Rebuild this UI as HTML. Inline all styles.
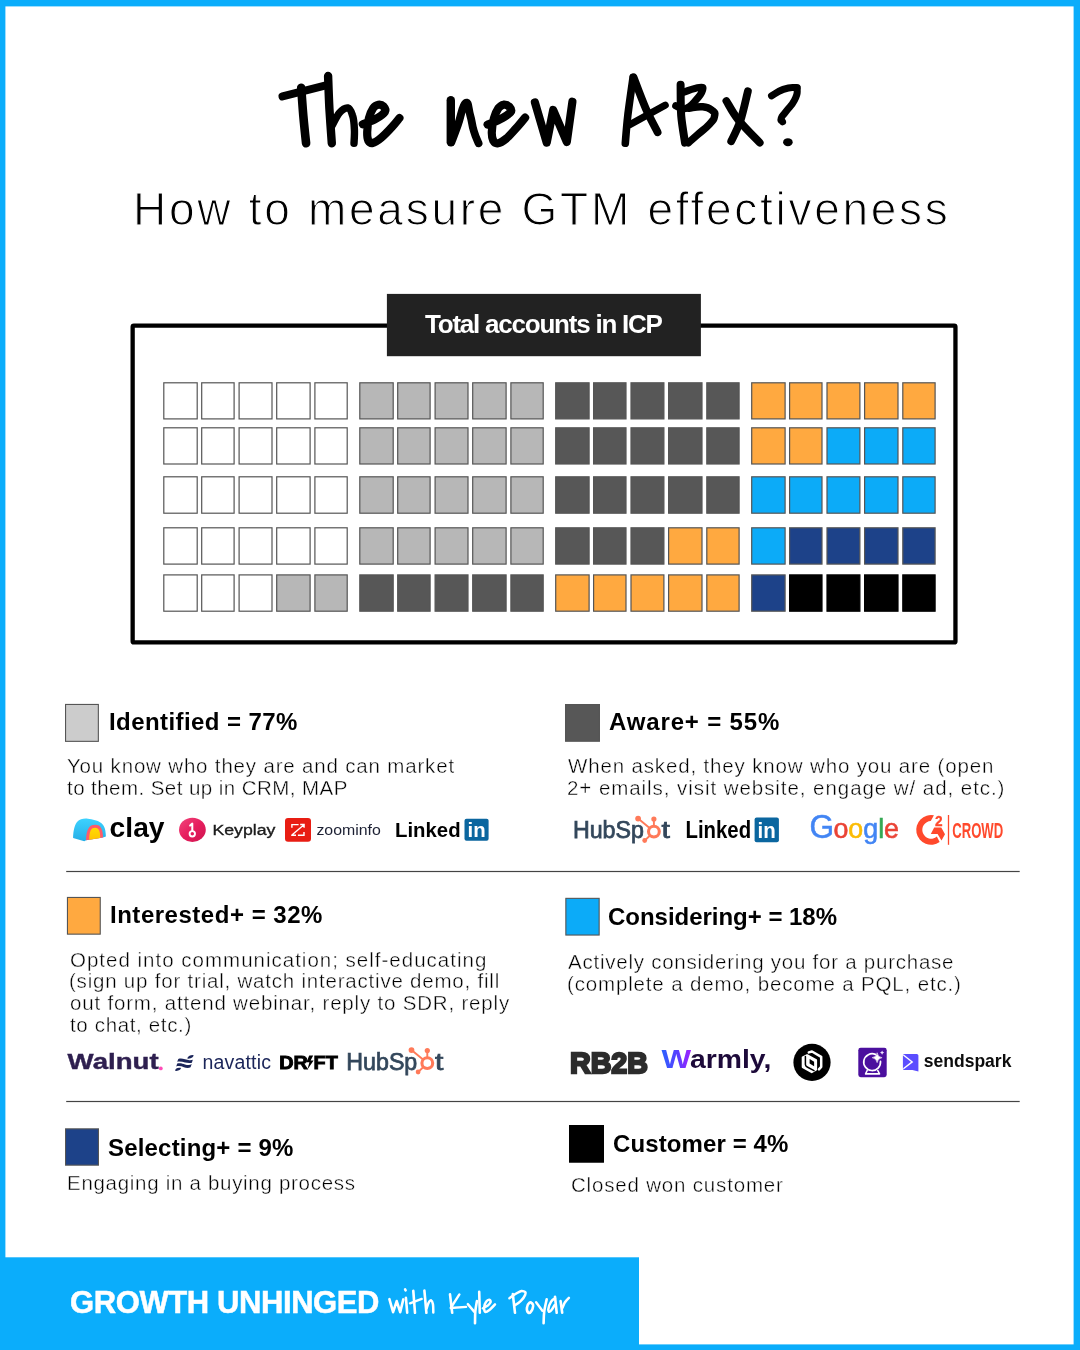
<!DOCTYPE html>
<html><head><meta charset="utf-8"><title>The new ABX?</title>
<style>
html,body{margin:0;padding:0}
body{width:1080px;height:1350px;position:relative;overflow:hidden;background:#0badfb;font-family:"Liberation Sans",sans-serif}
.t{position:absolute;white-space:nowrap;line-height:1;will-change:transform}
svg{position:absolute;overflow:visible;will-change:transform}
</style></head><body>
<svg width="1080" height="1350" style="left:0;top:0" viewBox="0 0 1080 1350">
<rect x="5.4" y="6.4" width="1068.2" height="1338" fill="#fff"/>
<rect x="0" y="1257.3" width="639" height="93" fill="#0badfb"/>
<rect x="132.65" y="325.55" width="822.8" height="316.9" rx="1.2" fill="none" stroke="#000" stroke-width="4.3"/>
<rect x="386.9" y="293.9" width="314" height="62.3" fill="#222"/>
<rect x="163.80" y="382.80" width="33.40" height="36.10" fill="#ffffff" stroke="#555" stroke-width="1.2"/>
<rect x="201.70" y="382.80" width="32.40" height="36.10" fill="#ffffff" stroke="#555" stroke-width="1.2"/>
<rect x="239.10" y="382.80" width="32.90" height="36.10" fill="#ffffff" stroke="#555" stroke-width="1.2"/>
<rect x="276.70" y="382.80" width="33.40" height="36.10" fill="#ffffff" stroke="#555" stroke-width="1.2"/>
<rect x="314.90" y="382.80" width="32.30" height="36.10" fill="#ffffff" stroke="#555" stroke-width="1.2"/>
<rect x="359.80" y="382.80" width="33.40" height="36.10" fill="#b7b7b7" stroke="#555" stroke-width="1.2"/>
<rect x="397.70" y="382.80" width="32.40" height="36.10" fill="#b7b7b7" stroke="#555" stroke-width="1.2"/>
<rect x="435.10" y="382.80" width="32.90" height="36.10" fill="#b7b7b7" stroke="#555" stroke-width="1.2"/>
<rect x="472.70" y="382.80" width="33.40" height="36.10" fill="#b7b7b7" stroke="#555" stroke-width="1.2"/>
<rect x="510.90" y="382.80" width="32.30" height="36.10" fill="#b7b7b7" stroke="#555" stroke-width="1.2"/>
<rect x="555.70" y="382.80" width="33.40" height="36.10" fill="#575757" stroke="#555" stroke-width="1.2"/>
<rect x="593.60" y="382.80" width="32.40" height="36.10" fill="#575757" stroke="#555" stroke-width="1.2"/>
<rect x="631.00" y="382.80" width="32.90" height="36.10" fill="#575757" stroke="#555" stroke-width="1.2"/>
<rect x="668.60" y="382.80" width="33.40" height="36.10" fill="#575757" stroke="#555" stroke-width="1.2"/>
<rect x="706.80" y="382.80" width="32.30" height="36.10" fill="#575757" stroke="#555" stroke-width="1.2"/>
<rect x="751.70" y="382.80" width="33.40" height="36.10" fill="#ffa940" stroke="#555" stroke-width="1.2"/>
<rect x="789.60" y="382.80" width="32.40" height="36.10" fill="#ffa940" stroke="#555" stroke-width="1.2"/>
<rect x="827.00" y="382.80" width="32.90" height="36.10" fill="#ffa940" stroke="#555" stroke-width="1.2"/>
<rect x="864.60" y="382.80" width="33.40" height="36.10" fill="#ffa940" stroke="#555" stroke-width="1.2"/>
<rect x="902.80" y="382.80" width="32.30" height="36.10" fill="#ffa940" stroke="#555" stroke-width="1.2"/>
<rect x="163.80" y="427.80" width="33.40" height="36.20" fill="#ffffff" stroke="#555" stroke-width="1.2"/>
<rect x="201.70" y="427.80" width="32.40" height="36.20" fill="#ffffff" stroke="#555" stroke-width="1.2"/>
<rect x="239.10" y="427.80" width="32.90" height="36.20" fill="#ffffff" stroke="#555" stroke-width="1.2"/>
<rect x="276.70" y="427.80" width="33.40" height="36.20" fill="#ffffff" stroke="#555" stroke-width="1.2"/>
<rect x="314.90" y="427.80" width="32.30" height="36.20" fill="#ffffff" stroke="#555" stroke-width="1.2"/>
<rect x="359.80" y="427.80" width="33.40" height="36.20" fill="#b7b7b7" stroke="#555" stroke-width="1.2"/>
<rect x="397.70" y="427.80" width="32.40" height="36.20" fill="#b7b7b7" stroke="#555" stroke-width="1.2"/>
<rect x="435.10" y="427.80" width="32.90" height="36.20" fill="#b7b7b7" stroke="#555" stroke-width="1.2"/>
<rect x="472.70" y="427.80" width="33.40" height="36.20" fill="#b7b7b7" stroke="#555" stroke-width="1.2"/>
<rect x="510.90" y="427.80" width="32.30" height="36.20" fill="#b7b7b7" stroke="#555" stroke-width="1.2"/>
<rect x="555.70" y="427.80" width="33.40" height="36.20" fill="#575757" stroke="#555" stroke-width="1.2"/>
<rect x="593.60" y="427.80" width="32.40" height="36.20" fill="#575757" stroke="#555" stroke-width="1.2"/>
<rect x="631.00" y="427.80" width="32.90" height="36.20" fill="#575757" stroke="#555" stroke-width="1.2"/>
<rect x="668.60" y="427.80" width="33.40" height="36.20" fill="#575757" stroke="#555" stroke-width="1.2"/>
<rect x="706.80" y="427.80" width="32.30" height="36.20" fill="#575757" stroke="#555" stroke-width="1.2"/>
<rect x="751.70" y="427.80" width="33.40" height="36.20" fill="#ffa940" stroke="#555" stroke-width="1.2"/>
<rect x="789.60" y="427.80" width="32.40" height="36.20" fill="#ffa940" stroke="#555" stroke-width="1.2"/>
<rect x="827.00" y="427.80" width="32.90" height="36.20" fill="#0cabf8" stroke="#555" stroke-width="1.2"/>
<rect x="864.60" y="427.80" width="33.40" height="36.20" fill="#0cabf8" stroke="#555" stroke-width="1.2"/>
<rect x="902.80" y="427.80" width="32.30" height="36.20" fill="#0cabf8" stroke="#555" stroke-width="1.2"/>
<rect x="163.80" y="476.80" width="33.40" height="36.40" fill="#ffffff" stroke="#555" stroke-width="1.2"/>
<rect x="201.70" y="476.80" width="32.40" height="36.40" fill="#ffffff" stroke="#555" stroke-width="1.2"/>
<rect x="239.10" y="476.80" width="32.90" height="36.40" fill="#ffffff" stroke="#555" stroke-width="1.2"/>
<rect x="276.70" y="476.80" width="33.40" height="36.40" fill="#ffffff" stroke="#555" stroke-width="1.2"/>
<rect x="314.90" y="476.80" width="32.30" height="36.40" fill="#ffffff" stroke="#555" stroke-width="1.2"/>
<rect x="359.80" y="476.80" width="33.40" height="36.40" fill="#b7b7b7" stroke="#555" stroke-width="1.2"/>
<rect x="397.70" y="476.80" width="32.40" height="36.40" fill="#b7b7b7" stroke="#555" stroke-width="1.2"/>
<rect x="435.10" y="476.80" width="32.90" height="36.40" fill="#b7b7b7" stroke="#555" stroke-width="1.2"/>
<rect x="472.70" y="476.80" width="33.40" height="36.40" fill="#b7b7b7" stroke="#555" stroke-width="1.2"/>
<rect x="510.90" y="476.80" width="32.30" height="36.40" fill="#b7b7b7" stroke="#555" stroke-width="1.2"/>
<rect x="555.70" y="476.80" width="33.40" height="36.40" fill="#575757" stroke="#555" stroke-width="1.2"/>
<rect x="593.60" y="476.80" width="32.40" height="36.40" fill="#575757" stroke="#555" stroke-width="1.2"/>
<rect x="631.00" y="476.80" width="32.90" height="36.40" fill="#575757" stroke="#555" stroke-width="1.2"/>
<rect x="668.60" y="476.80" width="33.40" height="36.40" fill="#575757" stroke="#555" stroke-width="1.2"/>
<rect x="706.80" y="476.80" width="32.30" height="36.40" fill="#575757" stroke="#555" stroke-width="1.2"/>
<rect x="751.70" y="476.80" width="33.40" height="36.40" fill="#0cabf8" stroke="#555" stroke-width="1.2"/>
<rect x="789.60" y="476.80" width="32.40" height="36.40" fill="#0cabf8" stroke="#555" stroke-width="1.2"/>
<rect x="827.00" y="476.80" width="32.90" height="36.40" fill="#0cabf8" stroke="#555" stroke-width="1.2"/>
<rect x="864.60" y="476.80" width="33.40" height="36.40" fill="#0cabf8" stroke="#555" stroke-width="1.2"/>
<rect x="902.80" y="476.80" width="32.30" height="36.40" fill="#0cabf8" stroke="#555" stroke-width="1.2"/>
<rect x="163.80" y="527.80" width="33.40" height="36.30" fill="#ffffff" stroke="#555" stroke-width="1.2"/>
<rect x="201.70" y="527.80" width="32.40" height="36.30" fill="#ffffff" stroke="#555" stroke-width="1.2"/>
<rect x="239.10" y="527.80" width="32.90" height="36.30" fill="#ffffff" stroke="#555" stroke-width="1.2"/>
<rect x="276.70" y="527.80" width="33.40" height="36.30" fill="#ffffff" stroke="#555" stroke-width="1.2"/>
<rect x="314.90" y="527.80" width="32.30" height="36.30" fill="#ffffff" stroke="#555" stroke-width="1.2"/>
<rect x="359.80" y="527.80" width="33.40" height="36.30" fill="#b7b7b7" stroke="#555" stroke-width="1.2"/>
<rect x="397.70" y="527.80" width="32.40" height="36.30" fill="#b7b7b7" stroke="#555" stroke-width="1.2"/>
<rect x="435.10" y="527.80" width="32.90" height="36.30" fill="#b7b7b7" stroke="#555" stroke-width="1.2"/>
<rect x="472.70" y="527.80" width="33.40" height="36.30" fill="#b7b7b7" stroke="#555" stroke-width="1.2"/>
<rect x="510.90" y="527.80" width="32.30" height="36.30" fill="#b7b7b7" stroke="#555" stroke-width="1.2"/>
<rect x="555.70" y="527.80" width="33.40" height="36.30" fill="#575757" stroke="#555" stroke-width="1.2"/>
<rect x="593.60" y="527.80" width="32.40" height="36.30" fill="#575757" stroke="#555" stroke-width="1.2"/>
<rect x="631.00" y="527.80" width="32.90" height="36.30" fill="#575757" stroke="#555" stroke-width="1.2"/>
<rect x="668.60" y="527.80" width="33.40" height="36.30" fill="#ffa940" stroke="#555" stroke-width="1.2"/>
<rect x="706.80" y="527.80" width="32.30" height="36.30" fill="#ffa940" stroke="#555" stroke-width="1.2"/>
<rect x="751.70" y="527.80" width="33.40" height="36.30" fill="#0cabf8" stroke="#555" stroke-width="1.2"/>
<rect x="789.60" y="527.80" width="32.40" height="36.30" fill="#1d4289" stroke="#555" stroke-width="1.2"/>
<rect x="827.00" y="527.80" width="32.90" height="36.30" fill="#1d4289" stroke="#555" stroke-width="1.2"/>
<rect x="864.60" y="527.80" width="33.40" height="36.30" fill="#1d4289" stroke="#555" stroke-width="1.2"/>
<rect x="902.80" y="527.80" width="32.30" height="36.30" fill="#1d4289" stroke="#555" stroke-width="1.2"/>
<rect x="163.80" y="574.90" width="33.40" height="36.30" fill="#ffffff" stroke="#555" stroke-width="1.2"/>
<rect x="201.70" y="574.90" width="32.40" height="36.30" fill="#ffffff" stroke="#555" stroke-width="1.2"/>
<rect x="239.10" y="574.90" width="32.90" height="36.30" fill="#ffffff" stroke="#555" stroke-width="1.2"/>
<rect x="276.70" y="574.90" width="33.40" height="36.30" fill="#b7b7b7" stroke="#555" stroke-width="1.2"/>
<rect x="314.90" y="574.90" width="32.30" height="36.30" fill="#b7b7b7" stroke="#555" stroke-width="1.2"/>
<rect x="359.80" y="574.90" width="33.40" height="36.30" fill="#575757" stroke="#555" stroke-width="1.2"/>
<rect x="397.70" y="574.90" width="32.40" height="36.30" fill="#575757" stroke="#555" stroke-width="1.2"/>
<rect x="435.10" y="574.90" width="32.90" height="36.30" fill="#575757" stroke="#555" stroke-width="1.2"/>
<rect x="472.70" y="574.90" width="33.40" height="36.30" fill="#575757" stroke="#555" stroke-width="1.2"/>
<rect x="510.90" y="574.90" width="32.30" height="36.30" fill="#575757" stroke="#555" stroke-width="1.2"/>
<rect x="555.70" y="574.90" width="33.40" height="36.30" fill="#ffa940" stroke="#555" stroke-width="1.2"/>
<rect x="593.60" y="574.90" width="32.40" height="36.30" fill="#ffa940" stroke="#555" stroke-width="1.2"/>
<rect x="631.00" y="574.90" width="32.90" height="36.30" fill="#ffa940" stroke="#555" stroke-width="1.2"/>
<rect x="668.60" y="574.90" width="33.40" height="36.30" fill="#ffa940" stroke="#555" stroke-width="1.2"/>
<rect x="706.80" y="574.90" width="32.30" height="36.30" fill="#ffa940" stroke="#555" stroke-width="1.2"/>
<rect x="751.70" y="574.90" width="33.40" height="36.30" fill="#1d4289" stroke="#555" stroke-width="1.2"/>
<rect x="789.60" y="574.90" width="32.40" height="36.30" fill="#000000" stroke="#000" stroke-width="1.2"/>
<rect x="827.00" y="574.90" width="32.90" height="36.30" fill="#000000" stroke="#000" stroke-width="1.2"/>
<rect x="864.60" y="574.90" width="33.40" height="36.30" fill="#000000" stroke="#000" stroke-width="1.2"/>
<rect x="902.80" y="574.90" width="32.30" height="36.30" fill="#000000" stroke="#000" stroke-width="1.2"/>
<rect x="65.55" y="704.45" width="32.80" height="36.90" fill="#cccccc" stroke="#555" stroke-width="1.1"/>
<rect x="565.55" y="704.55" width="33.90" height="36.70" fill="#575757" stroke="#555" stroke-width="1.1"/>
<rect x="67.45" y="897.45" width="32.80" height="36.70" fill="#ffa940" stroke="#555" stroke-width="1.1"/>
<rect x="565.85" y="898.35" width="33.30" height="36.70" fill="#0cabf8" stroke="#555" stroke-width="1.1"/>
<rect x="65.55" y="1128.85" width="32.90" height="36.30" fill="#1d4289" stroke="#555" stroke-width="1.1"/>
<rect x="569.55" y="1125.55" width="33.90" height="36.60" fill="#000000" stroke="#000" stroke-width="1.1"/>
<rect x="66.2" y="870.9" width="953.5" height="1.2" fill="#444"/>
<rect x="66.2" y="1100.9" width="953.5" height="1.2" fill="#444"/>
</svg>

<div class="t" style="left:132.75px;top:185.5px;font-size:46px;font-weight:400;color:#000;letter-spacing:2.725px;-webkit-text-stroke:1.1px #fff;">How to measure GTM effectiveness</div>
<div class="t" style="left:425.00px;top:310.8px;font-size:26px;font-weight:700;color:#fff;letter-spacing:-1.225px;">Total accounts in ICP</div>
<div class="t" style="left:109.00px;top:709.5px;font-size:24.0px;font-weight:700;color:#000;letter-spacing:0.419px;">Identified = 77%</div>
<div class="t" style="left:67.20px;top:756.3px;font-size:20.5px;font-weight:400;color:#000;letter-spacing:0.825px;-webkit-text-stroke:0.4px #fff;">You know who they are and can market</div>
<div class="t" style="left:67.20px;top:778.1px;font-size:20.5px;font-weight:400;color:#000;letter-spacing:0.442px;-webkit-text-stroke:0.4px #fff;">to them. Set up in CRM, MAP</div>
<div class="t" style="left:608.75px;top:709.5px;font-size:24.0px;font-weight:700;color:#000;letter-spacing:0.849px;">Aware+ = 55%</div>
<div class="t" style="left:567.60px;top:755.6px;font-size:20.5px;font-weight:400;color:#000;letter-spacing:0.849px;-webkit-text-stroke:0.4px #fff;">When asked, they know who you are (open</div>
<div class="t" style="left:566.60px;top:777.7px;font-size:20.5px;font-weight:400;color:#000;letter-spacing:0.943px;-webkit-text-stroke:0.4px #fff;">2+ emails, visit website, engage w/ ad, etc.)</div>
<div class="t" style="left:110.40px;top:902.8px;font-size:24.0px;font-weight:700;color:#000;letter-spacing:0.521px;">Interested+ = 32%</div>
<div class="t" style="left:69.50px;top:949.7px;font-size:20.5px;font-weight:400;color:#000;letter-spacing:1.003px;-webkit-text-stroke:0.4px #fff;">Opted into communication; self-educating</div>
<div class="t" style="left:68.50px;top:971.0px;font-size:20.5px;font-weight:400;color:#000;letter-spacing:0.791px;-webkit-text-stroke:0.4px #fff;">(sign up for trial, watch interactive demo, fill</div>
<div class="t" style="left:69.50px;top:993.2px;font-size:20.5px;font-weight:400;color:#000;letter-spacing:0.814px;-webkit-text-stroke:0.4px #fff;">out form, attend webinar, reply to SDR, reply</div>
<div class="t" style="left:69.50px;top:1015.0px;font-size:20.5px;font-weight:400;color:#000;letter-spacing:0.648px;-webkit-text-stroke:0.4px #fff;">to chat, etc.)</div>
<div class="t" style="left:608.30px;top:904.7px;font-size:24.0px;font-weight:700;color:#000;letter-spacing:-0.022px;">Considering+ = 18%</div>
<div class="t" style="left:567.60px;top:952.2px;font-size:20.5px;font-weight:400;color:#000;letter-spacing:0.759px;-webkit-text-stroke:0.4px #fff;">Actively considering you for a purchase</div>
<div class="t" style="left:566.60px;top:974.3px;font-size:20.5px;font-weight:400;color:#000;letter-spacing:0.846px;-webkit-text-stroke:0.4px #fff;">(complete a demo, become a PQL, etc.)</div>
<div class="t" style="left:108.30px;top:1135.7px;font-size:24.0px;font-weight:700;color:#000;letter-spacing:0.185px;">Selecting+ = 9%</div>
<div class="t" style="left:66.50px;top:1173.3px;font-size:20.5px;font-weight:400;color:#000;letter-spacing:0.703px;-webkit-text-stroke:0.4px #fff;">Engaging in a buying process</div>
<div class="t" style="left:613.30px;top:1132.3px;font-size:24.0px;font-weight:700;color:#000;letter-spacing:0.107px;">Customer = 4%</div>
<div class="t" style="left:570.50px;top:1175.3px;font-size:20.5px;font-weight:400;color:#000;letter-spacing:0.817px;-webkit-text-stroke:0.4px #fff;">Closed won customer</div>
<div class="t" style="left:69.95px;top:1287.3px;font-size:31px;font-weight:700;color:#fff;letter-spacing:-0.404px;-webkit-text-stroke:0.5px #fff;">GROWTH UNHINGED</div>
<svg width="1080" height="260" style="left:0;top:0" viewBox="0 0 1080 260" fill="none" stroke="#000" stroke-linecap="round" stroke-linejoin="round">
<path d="M282.5,96.4 L324.9,85.7" stroke-width="8.0"/>
<path d="M301.2,87.8 C301.6,92.4 302.5,106.3 303.3,115.6 C304.1,124.8 305.6,138.7 306.1,143.3" stroke-width="8.6"/>
<path d="M328.1,76.0 C328.3,81.4 328.8,97.4 329.4,108.6 C330.1,119.8 331.4,137.5 331.8,143.3" stroke-width="8.4"/>
<path d="M332.2,125.3 C333.4,123.2 336.9,115.7 339.4,112.8 C342.0,109.9 345.6,107.5 347.8,107.9 C350.0,108.4 351.5,112.0 352.6,115.6 C353.8,119.1 354.2,124.8 354.4,129.4 C354.7,134.1 354.1,141.0 354.0,143.3" stroke-width="7.4"/>
<path d="M362.8,124.2 C364.9,123.3 371.9,121.1 375.6,119.0 C379.3,116.9 383.7,113.7 385.0,111.7 C386.3,109.6 384.7,107.7 383.6,106.5 C382.5,105.4 380.1,104.4 378.3,104.7 C376.6,105.0 374.6,106.1 373.1,108.3 C371.5,110.6 369.9,114.4 368.9,118.3 C367.9,122.3 367.3,128.5 367.2,132.2 C367.1,135.9 367.4,138.8 368.3,140.6 C369.3,142.3 370.6,143.4 372.8,142.9 C374.9,142.5 377.9,140.5 381.1,137.8 C384.4,135.1 389.2,130.0 392.2,126.7 C395.3,123.4 398.2,119.5 399.4,118.1" stroke-width="8.2"/>
<path d="M450.8,100.3 L450.8,142.2" stroke-width="8.4"/>
<path d="M451.5,142.2 C453.2,137.7 454.1,135.7 457.8,125.3 C461.5,114.8 462.1,105.6 465.4,103.1 C468.8,100.5 468.1,108.1 470.3,115.6 C472.5,123.0 471.5,123.4 473.8,130.8 C476.0,138.2 477.3,140.0 478.6,143.3" stroke-width="7.8"/>
<path d="M487.6,124.6 C489.6,123.8 495.6,121.8 499.4,119.7 C503.3,117.6 508.9,114.2 510.6,112.1 C512.2,110.0 510.6,108.2 509.4,106.9 C508.3,105.7 505.5,104.5 503.6,104.7 C501.8,105.0 500.0,106.1 498.3,108.3 C496.7,110.6 495.0,114.4 493.9,118.3 C492.8,122.3 491.9,128.5 491.8,132.2 C491.7,135.9 492.2,138.7 493.2,140.6 C494.2,142.4 495.9,143.7 498.1,143.3 C500.3,143.0 503.1,141.2 506.4,138.5 C509.6,135.7 514.4,130.1 517.5,126.7 C520.6,123.2 523.9,119.1 525.1,117.6" stroke-width="8.2"/>
<path d="M534.9,102.4 L546.7,142.6 L553.2,110.0 L566.8,141.9 L572.4,101.7" stroke-width="8.2"/>
<path d="M625.3,143.3 C625.7,138.7 626.5,126.6 627.8,115.6 C629.1,104.6 632.2,83.7 633.1,77.4" stroke-width="7.6"/>
<path d="M633.6,77.4 C635.6,82.6 641.8,99.5 645.8,108.6 C649.8,117.8 655.7,128.3 657.6,132.2" stroke-width="7.8"/>
<path d="M629.9,124.6 L665.3,105.1" stroke-width="7.0"/>
<path d="M680.6,84.7 C680.7,89.9 680.5,105.9 681.2,115.6 C682.0,125.2 684.4,138.1 685.0,142.6" stroke-width="8.0"/>
<path d="M683.3,92.2 C687.1,91.1 694.8,88.0 699.3,87.5 C703.8,87.0 703.3,87.3 702.5,90.3 C701.7,93.3 699.8,96.0 695.8,100.3 C691.8,104.6 690.1,107.3 685.4,108.6 C680.7,109.9 678.0,106.5 675.7,105.8" stroke-width="7.2"/>
<path d="M688.9,108.3 C692.6,107.9 696.5,106.2 702.8,106.8 C709.1,107.4 709.4,108.3 712.5,110.7 C715.6,113.1 715.3,112.3 714.6,115.8 C713.8,119.4 714.4,118.8 709.7,123.9 C705.1,129.0 703.0,129.9 697.2,135.0 C691.5,140.1 690.6,140.8 688.2,142.9" stroke-width="7.4"/>
<path d="M726.4,101.0 C728.4,104.1 732.6,112.8 738.2,119.7 C743.8,126.7 756.1,138.8 759.7,142.6" stroke-width="7.8"/>
<path d="M747.9,91.2 C746.6,96.2 743.1,112.8 740.3,121.1 C737.5,129.4 732.8,137.9 731.2,141.2" stroke-width="7.8"/>
<path d="M771.5,95.8 C775.1,93.9 776.5,91.9 783.3,89.4 C790.2,86.9 790.3,87.2 794.4,87.5 C798.6,87.8 797.2,86.4 797.2,90.3 C797.2,94.1 797.8,93.9 794.4,100.3 C791.1,106.6 790.1,106.0 786.1,111.4 C782.2,116.8 782.3,115.2 781.2,118.3 C780.2,121.5 782.2,120.8 782.6,121.8" stroke-width="7.0"/>
<ellipse cx="787.9" cy="142.2" rx="4.8" ry="4.0" fill="#000" stroke="none"/>
</svg>
<svg width="1080" height="1350" style="left:0;top:0" viewBox="0 0 1080 1350" font-family="Liberation Sans, sans-serif">
<defs><linearGradient id="cl" x1="0" y1="0" x2="0" y2="1"><stop offset="0" stop-color="#3dd2ff"/><stop offset="1" stop-color="#25aee6"/></linearGradient>
<linearGradient id="cy" x1="0" y1="0" x2="0" y2="1"><stop offset="0" stop-color="#ffdc00"/><stop offset="1" stop-color="#ffc400"/></linearGradient></defs>
<g>
<path d="M73.1,837.9 C73.2,834 73.6,826.5 77,822 C80,818.6 84,818.4 88,818.7 C92,819 98.5,820.6 101.8,823.4 C105,826.2 105.8,831 105.9,836.5 L103,837.6 L86.1,840.2 L84.3,841.3 Z" fill="url(#cl)"/>
<path d="M86.1,840.2 C86.2,836 86.6,830.6 89.4,827 C91.6,824.4 98.2,823.6 100.6,827.2 C102.6,830 102.9,833.6 103,837.6 Z" fill="#ff5a6a"/>
<path d="M89.2,839.7 C89.2,836.5 89.4,832.6 90.8,830.2 C92.6,827.2 97.2,827 98.9,830 C100.1,832.2 100.2,835 100.2,838.1 Z" fill="url(#cy)"/>
</g>
<text x="109.6" y="837.2" font-size="28" font-weight="700" fill="#000" textLength="55.0" lengthAdjust="spacingAndGlyphs" >clay</text>
<defs><linearGradient id="kp" x1="0" y1="0" x2="1" y2="1"><stop offset="0" stop-color="#f2457c"/><stop offset="0.5" stop-color="#e61e5e"/><stop offset="1" stop-color="#cf154f"/></linearGradient></defs>
<ellipse cx="192.4" cy="829.8" rx="13.4" ry="12.1" fill="url(#kp)"/>
<circle cx="192.3" cy="833.8" r="2.7" fill="none" stroke="#fff" stroke-width="1.9"/>
<path d="M190.1,825.6 L192.3,823.6 L192.3,831" fill="none" stroke="#fff" stroke-width="2" stroke-linejoin="round" stroke-linecap="round"/>
<text x="212.4" y="834.9" font-size="15.5" font-weight="400" fill="#1c1c1c" textLength="63.0" lengthAdjust="spacingAndGlyphs" stroke="#1c1c1c" stroke-width="0.35">Keyplay</text>
<rect x="285" y="818" width="26" height="23.8" rx="3" fill="#e81d13"/>
<path d="M291.9,827.8 L291.9,824.6 L298.6,824.6 M300.2,824.5 L304.1,824.5 L304.1,827.8 M303.4,825.3 L292.2,834.7 M291.2,835.2 L296,835.2 M297.9,835.2 L304,835.2 L304,832" fill="none" stroke="#fff" stroke-width="1.4" stroke-linejoin="miter" stroke-linecap="butt"/>
<text x="316.4" y="834.9" font-size="13.8" font-weight="400" fill="#1c2033" textLength="64.4" lengthAdjust="spacingAndGlyphs" >zoominfo</text>
<text x="395.0" y="837.2" font-size="21" font-weight="700" fill="#000" textLength="65.6" lengthAdjust="spacingAndGlyphs" >Linked</text>
<rect x="464.5" y="818.7" width="24.1" height="22" rx="2" fill="#0b669f"/>
<text x="467.5" y="836.9" font-size="20.5" font-weight="700" fill="#fff" textLength="18.1" lengthAdjust="spacingAndGlyphs" >in</text>
<text x="685.5" y="838.3" font-size="23" font-weight="700" fill="#000" textLength="65.6" lengthAdjust="spacingAndGlyphs" >Linked</text>
<rect x="754.6" y="817.5" width="24.3" height="24.7" rx="2" fill="#0b669f"/>
<text x="757.6" y="838.0" font-size="22.5" font-weight="700" fill="#fff" textLength="18.2" lengthAdjust="spacingAndGlyphs" >in</text>
<text x="572.9" y="838.3" font-size="24.2" font-weight="400" fill="#33475b" textLength="71.0" lengthAdjust="spacingAndGlyphs" stroke="#33475b" stroke-width="0.75">HubSp</text>
<text x="661.6" y="838.3" font-size="24.2" font-weight="400" fill="#33475b" textLength="8.4" lengthAdjust="spacingAndGlyphs" stroke="#33475b" stroke-width="0.75">t</text>
<g fill="none" stroke="#ff7a59" stroke-linecap="round">
<circle cx="653.9" cy="831.6" r="5.4" stroke-width="3.1"/>
<path d="M653.9,825.6 L653.9,819.6" stroke-width="1.9"/>
<path d="M649.3,827.8 L638.7,819.0" stroke-width="1.9"/>
<path d="M649.5,836.0 L644.9,840.4" stroke-width="1.9"/>
</g>
<circle cx="653.9" cy="819.1" r="2.6" fill="#ff7a59"/>
<circle cx="638.1" cy="818.6" r="2.9" fill="#ff7a59"/>
<circle cx="644.7" cy="840.5" r="2.4" fill="#ff7a59"/>
<text x="346.3" y="1069.8" font-size="24.2" font-weight="400" fill="#33475b" textLength="71.0" lengthAdjust="spacingAndGlyphs" stroke="#33475b" stroke-width="0.75">HubSp</text>
<text x="435.0" y="1069.8" font-size="24.2" font-weight="400" fill="#33475b" textLength="8.4" lengthAdjust="spacingAndGlyphs" stroke="#33475b" stroke-width="0.75">t</text>
<g fill="none" stroke="#ff7a59" stroke-linecap="round">
<circle cx="427.3" cy="1063.1" r="5.4" stroke-width="3.1"/>
<path d="M427.3,1057.1 L427.3,1051.1" stroke-width="1.9"/>
<path d="M422.7,1059.3 L412.1,1050.5" stroke-width="1.9"/>
<path d="M422.9,1067.5 L418.3,1071.9" stroke-width="1.9"/>
</g>
<circle cx="427.3" cy="1050.6" r="2.6" fill="#ff7a59"/>
<circle cx="411.5" cy="1050.1" r="2.9" fill="#ff7a59"/>
<circle cx="418.1" cy="1072.0" r="2.4" fill="#ff7a59"/>
<text x="809.6" y="837.5" font-size="32.5" fill="#4285f4" stroke="#4285f4" stroke-width="0.5" textLength="24.6" lengthAdjust="spacingAndGlyphs">G</text>
<text x="833.4" y="837.5" font-size="28" textLength="65.6" lengthAdjust="spacingAndGlyphs" stroke-width="0.6"><tspan fill="#ea4335" stroke="#ea4335">o</tspan><tspan fill="#fbbc05" stroke="#fbbc05">o</tspan><tspan fill="#4285f4" stroke="#4285f4">g</tspan><tspan fill="#34a853" stroke="#34a853">l</tspan><tspan fill="#ea4335" stroke="#ea4335">e</tspan></text>
<path d="M933.94,815.27 A14.9,14.9 0 1 0 939.65,842.11 L936.82,836.59 A8.8,8.8 0 1 1 930.79,821.11 Z" fill="#ff492c"/>
<path d="M934.2,827.5 L941.25,827.5 L945,834.2 L941.5,840.4 L937.6,833.9 L930.8,833.9 Z" fill="#ff492c"/>
<text x="934.9" y="825.8" font-size="14" font-weight="700" fill="#ff492c" textLength="7.6" lengthAdjust="spacingAndGlyphs" stroke="#ff492c" stroke-width="0.3">2</text>
<rect x="947.85" y="815" width="1.3" height="29.8" fill="#ff492c"/>
<text x="952.2" y="837.6" font-size="21.5" font-weight="700" fill="#ff492c" textLength="51.0" lengthAdjust="spacingAndGlyphs" >CROWD</text>
<text x="67.6" y="1069.4" font-size="22" font-weight="700" fill="#2e1f4f" textLength="91.0" lengthAdjust="spacingAndGlyphs" stroke="#2e1f4f" stroke-width="0.4">Walnut</text>
<circle cx="160.8" cy="1068.4" r="1.9" fill="#ff4db8"/>
<g fill="#1b2559">
<path d="M187.2,1058.6 C187.6,1056.6 190,1054.9 193.6,1055.1 C193.4,1057.4 191.6,1058.9 187.2,1058.6 Z"/>
<path d="M178.3,1059 C181.1,1057.6 185.6,1059.4 189.4,1060.2 C190.8,1060.4 192,1060 192.8,1059.7 L191.9,1062.7 C190.6,1063.4 187,1063.1 185,1062.6 C182.6,1061.9 180,1061.2 177.2,1061.8 Z"/>
<path d="M177.2,1063.6 C180,1062.6 183,1063.8 185,1064.4 C187.4,1065.1 190,1065.4 191.7,1064.1 L190.6,1067.2 C188.6,1068.4 185.6,1067.8 183.9,1067.2 C181.4,1066.3 178.6,1065.6 176.2,1066.6 Z"/>
<path d="M175,1070.8 C175.4,1068.6 177.6,1067.3 181.1,1068.1 C180.4,1070.2 178.4,1071.2 175,1070.8 Z"/>
</g>
<text x="202.4" y="1068.5" font-size="19.5" font-weight="400" fill="#1b2559" textLength="68.6" lengthAdjust="spacing" >navattic</text>
<text x="279.2" y="1068.7" font-size="18" font-weight="700" fill="#000" textLength="28.6" lengthAdjust="spacingAndGlyphs" stroke="#000" stroke-width="0.9">DR</text>
<text x="313.6" y="1068.7" font-size="18" font-weight="700" fill="#000" textLength="24.2" lengthAdjust="spacingAndGlyphs" stroke="#000" stroke-width="0.9">FT</text>
<path d="M313.2,1055.6 L309.2,1055.6 L306.4,1062.2 L309.4,1062.2 L307.4,1069.4 L313.6,1060.4 L310.6,1060.4 Z" fill="#000"/>
<text x="570" y="1072.8" font-size="30" font-weight="700" fill="#2c2c2c" stroke="#2c2c2c" stroke-width="2.3" stroke-linejoin="miter" textLength="78" lengthAdjust="spacingAndGlyphs">RB2B</text>
<defs><linearGradient id="wm" x1="0" y1="0" x2="1" y2="0"><stop offset="0" stop-color="#2b63ff"/><stop offset="0.55" stop-color="#5a3cff"/><stop offset="1" stop-color="#a51fff"/></linearGradient></defs>
<text x="661.6" y="1068.3" font-size="26" font-weight="700" fill="url(#wm)" textLength="29.6" lengthAdjust="spacingAndGlyphs" >W</text>
<text x="690.0" y="1068.3" font-size="26" font-weight="700" fill="#1d0a3a" textLength="81.4" lengthAdjust="spacingAndGlyphs" >armly,</text>
<circle cx="812" cy="1062.4" r="18.6" fill="#000"/>
<path d="M808.8,1052.4 L812,1051.5 L821.2,1056.8 L821.2,1066.8 L818.9,1069.4" fill="none" stroke="#fff" stroke-width="2.5" stroke-linejoin="round" stroke-linecap="round"/>
<path d="M802.7,1057.4 L807.1,1055.2 L816.1,1060.2 L816.1,1069.6 L811.7,1072.2 L802.7,1067.1 Z" fill="#fff" stroke="#fff" stroke-width="2" stroke-linejoin="round"/>
<path d="M805.4,1056.6 L805.4,1064.6 Q805.4,1066 807.2,1067 L814,1070.6" fill="none" stroke="#000" stroke-width="1.5" stroke-linecap="round"/>
<path d="M809.6,1058.9 L814.1,1061.8 L814.1,1066.2 L809.6,1063.6 Z" fill="#000"/>
<rect x="858.3" y="1047.8" width="28.4" height="29.4" rx="2.4" fill="#4b0f9e"/>
<path d="M875.4,1054.4 A8.4,8.4 0 1 0 880.5,1061.4" fill="none" stroke="#fff" stroke-width="1.7" stroke-linecap="round"/>
<path d="M867.4,1070 L865.6,1073.9 L879.5,1073.9 L877.5,1070" fill="none" stroke="#fff" stroke-width="1.6" stroke-linejoin="round"/>
<path d="M877.1,1052.7 Q877.7,1057.1 882.1,1057.7 Q877.7,1058.3 877.1,1062.7 Q876.5,1058.3 872.1,1057.7 Q876.5,1057.1 877.1,1052.7 Z" fill="#fff" stroke="#fff" stroke-width="0.5" stroke-linejoin="round"/>
<path d="M882.1,1050.4 Q882.6,1052.1 884.3,1052.6 Q882.6,1053.1 882.1,1054.8 Q881.6,1053.1 879.9,1052.6 Q881.6,1052.1 882.1,1050.4 Z" fill="#efe6ff"/>
<path d="M904.4,1053.9 L916.8,1053.9 Q918.4,1053.9 918.4,1055.5 L918.4,1071.6 L912.4,1069.9 L904.4,1069.9 Q902.9,1069.9 902.9,1068.4 L902.9,1055.4 Q902.9,1053.9 904.4,1053.9 Z" fill="#5b4dff"/>
<path d="M903.4,1055 L912.2,1061.9 L903.4,1068.8" fill="none" stroke="#fff" stroke-width="1.4"/>
<text x="923.8" y="1067.1" font-size="18.5" font-weight="700" fill="#0d0d0d" textLength="87.6" lengthAdjust="spacingAndGlyphs" >sendspark</text>
</svg>
<svg width="1080" height="100" style="left:0;top:1250px" viewBox="0 1250 1080 100" fill="none" stroke="#fff" stroke-linecap="round" stroke-linejoin="round">
<path d="M389.4,1299.2 L393.1,1312.2 L396.7,1301.1 L400.2,1312.2 L403.3,1299.4" stroke-width="2.6"/>
<path d="M405.9,1297.8 L407.2,1312.6" stroke-width="2.6"/>
<path d="M405.1,1289.4 L405.6,1290.3" stroke-width="2.6"/>
<path d="M413.3,1290.8 L415.0,1312.8" stroke-width="2.6"/>
<path d="M410.0,1303.3 L421.7,1298.9" stroke-width="2.4"/>
<path d="M424.4,1290.6 L426.4,1312.8" stroke-width="2.6"/>
<path d="M426.7,1308.3 C427.0,1307.3 428.1,1303.6 428.9,1302.2 C429.6,1300.9 430.4,1300.1 431.1,1300.3 C431.8,1300.6 432.5,1301.9 432.9,1303.9 C433.3,1305.9 433.3,1311.1 433.3,1312.6" stroke-width="2.5"/>
<path d="M450.0,1294.4 L452.2,1312.8" stroke-width="2.6"/>
<path d="M459.4,1294.4 L450.7,1308.0 L466.1,1306.9" stroke-width="2.4"/>
<path d="M467.8,1304.1 L474.4,1311.9" stroke-width="2.4"/>
<path d="M476.9,1301.1 C476.6,1302.9 475.6,1308.0 475.3,1311.7 C475.0,1315.4 475.1,1321.4 475.0,1323.3" stroke-width="2.6"/>
<path d="M479.2,1291.7 L479.8,1312.8" stroke-width="2.6"/>
<path d="M482.8,1308.3 C483.6,1307.9 486.5,1306.6 487.8,1305.6 C489.1,1304.5 490.3,1303.2 490.6,1302.2 C490.8,1301.2 490.2,1299.8 489.4,1299.7 C488.7,1299.6 487.0,1300.4 486.1,1301.7 C485.2,1302.9 484.4,1305.5 484.2,1307.2 C484.1,1308.9 484.5,1311.4 485.3,1311.9 C486.2,1312.4 487.8,1311.2 489.4,1310.0 C491.1,1308.8 494.1,1305.4 495.0,1304.4" stroke-width="2.5"/>
<path d="M512.8,1294.1 L515.0,1312.8" stroke-width="2.6"/>
<path d="M509.4,1298.3 C511.7,1296.8 513.9,1294.4 517.8,1292.6 C521.6,1290.7 521.9,1290.8 523.9,1291.4 C525.8,1292.1 526.0,1292.4 525.1,1295.0 C524.2,1297.6 523.5,1298.3 520.6,1301.1 C517.7,1303.9 515.9,1304.4 514.2,1305.6" stroke-width="2.5"/>
<path d="M532.4,1303.7 C531.5,1303.4 531.1,1301.5 529.4,1302.8 C527.8,1304.0 527.2,1304.8 526.9,1307.8 C526.6,1310.7 527.0,1311.6 528.3,1312.6 C529.7,1313.6 529.9,1313.0 531.3,1311.1 C532.8,1309.2 532.8,1308.4 533.1,1306.1 C533.4,1303.8 532.5,1304.2 532.2,1303.3" stroke-width="2.6"/>
<path d="M536.1,1302.2 L542.4,1310.8" stroke-width="2.4"/>
<path d="M546.7,1299.2 C546.3,1301.3 544.7,1307.6 544.2,1311.7 C543.7,1315.7 543.7,1321.4 543.6,1323.3" stroke-width="2.6"/>
<path d="M555.0,1298.3 C554.0,1299.2 552.9,1298.7 551.1,1301.7 C549.3,1304.6 548.5,1306.9 548.3,1309.4 C548.2,1312.0 548.9,1312.3 550.6,1311.1 C552.2,1309.9 553.6,1306.6 554.7,1305.0" stroke-width="2.5"/>
<path d="M555.0,1296.7 L556.7,1312.8" stroke-width="2.6"/>
<path d="M560.6,1301.1 L562.2,1312.8" stroke-width="2.6"/>
<path d="M562.2,1308.3 C562.7,1307.3 563.9,1304.0 565.0,1302.2 C566.1,1300.5 568.2,1298.5 568.9,1297.8" stroke-width="2.5"/>
</svg>
</body></html>
